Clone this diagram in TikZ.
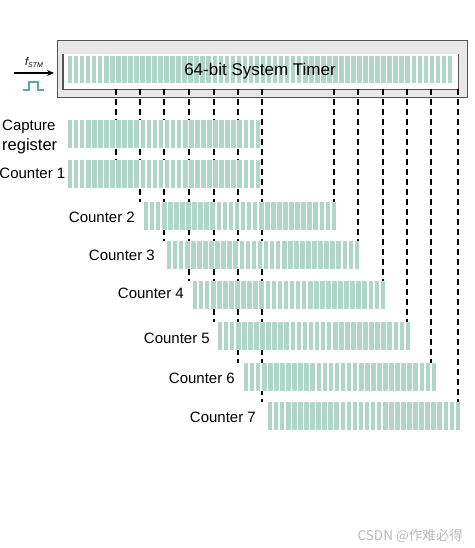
\documentclass[tikz,border=0pt]{standalone}
\usepackage{fontspec}
\setmainfont{Liberation Sans}
\newfontfamily\cjk{Noto Sans CJK SC}
\usetikzlibrary{arrows.meta}
\definecolor{stripecol}{RGB}{176,214,202}
\definecolor{boxfill}{RGB}{233,231,231}
\definecolor{boxline}{RGB}{85,85,85}
\definecolor{pulsecol}{RGB}{90,170,155}
\newcommand\mybar[3]{%
  \fill[white] (#1.north west) rectangle (#1.south east);
  \foreach \i in {1,...,#2}{\fill[stripecol] ([xshift={(\i-1)*#3pt+0.8pt}]#1.north west) rectangle ([xshift={(\i-1)*#3pt+#3pt-0.7pt}]#1.south west);}}
\begin{document}
\begin{tikzpicture}[x=1pt,y=-1pt,
  bar/.style={rectangle, inner sep=0pt, minimum width=194pt, minimum height=28pt, anchor=north west},
  lab/.style={font=\fontsize{15}{17}\selectfont, anchor=east, inner sep=0pt},
  dline/.style={line width=1.8pt, dash pattern=on 6pt off 4pt}]
\useasboundingbox (0,0) rectangle (474,548);

% system timer
\node[draw=boxline, fill=boxfill, line width=1pt, minimum width=410pt, minimum height=57pt, anchor=north west, inner sep=0pt] (sys) at (57,40) {};
\node[fill=white, inner sep=0pt, minimum width=395pt, minimum height=35pt, anchor=north west] (tim) at (63,54) {};
\draw[boxline, line width=1.2pt] (tim.north west) -- (tim.south west) -- (tim.south east) -- (tim.north east);
\node[inner sep=0pt, minimum width=386pt, minimum height=27pt, anchor=north west] (timbar) at (67,56) {};
\mybar{timbar}{64}{6.03}
\node[font=\fontsize{17}{19}\selectfont, inner sep=0pt] (timtext) at (260,71) {64-bit System Timer};

% clock input
\coordinate (clkin) at (14,73);
\draw[-{Stealth[length=7pt,width=6pt]}, line width=1.3pt] (clkin) -- ([xshift=-3pt]clkin -| sys.west);
\node[inner sep=0pt] (fstm) at (34,63) {\fontsize{11}{11}\selectfont\itshape f\raisebox{-2pt}{\fontsize{7}{7}\selectfont STM}};
\draw[pulsecol, line width=1.6pt] (23,90) -- (29,90) -- (29,82) -- (38,82) -- (38,90) -- (44,90);

% register / counter frames
\node[bar] (cap) at (67,120) {};
\node[bar] (c1) at (67,160) {};
\node[bar] (c2) at (143,202) {};
\node[bar] (c3) at (166,241) {};
\node[bar] (c4) at (192,281) {};
\node[bar] (c5) at (217,322) {};
\node[bar] (c6) at (243,363) {};
\node[bar] (c7) at (267,402) {};

% dashed taps
\draw[dline] (116,0 |- tim.south) -- (116,0 |- c1.north);
\draw[dline] (140,0 |- tim.south) -- (140,0 |- c2.north);
\draw[dline] (164,0 |- tim.south) -- (164,0 |- c3.north);
\draw[dline] (189,0 |- tim.south) -- (189,0 |- c4.north);
\draw[dline] (214,0 |- tim.south) -- (214,0 |- c5.north);
\draw[dline] (238,0 |- tim.south) -- (238,0 |- c6.north);
\draw[dline] (262,0 |- tim.south) -- (262,0 |- c7.north);
\draw[dline] (334,0 |- tim.south) -- (334,0 |- c2.north);
\draw[dline] (358,0 |- tim.south) -- (358,0 |- c3.north);
\draw[dline] (383,0 |- tim.south) -- (383,0 |- c4.north);
\draw[dline] (407,0 |- tim.south) -- (407,0 |- c5.north);
\draw[dline] (431,0 |- tim.south) -- (431,0 |- c6.north);
\draw[dline] (458,0 |- tim.south) -- (458,0 |- c7.north);

% bars
\mybar{cap}{32}{6.06}
\mybar{c1}{32}{6.06}
\mybar{c2}{32}{6.06}
\mybar{c3}{32}{6.06}
\mybar{c4}{32}{6.06}
\mybar{c5}{32}{6.06}
\mybar{c6}{32}{6.06}
\mybar{c7}{32}{6.06}

% labels
\node[lab, anchor=west] (capl1) at (2,127) {Capture};
\node[lab, anchor=west, font=\fontsize{16.5}{18}\selectfont] (capl2) at (2,146) {register};
\node[lab] (l1) at (65.5,173) {Counter 1};
\node[lab] (l2) at (135,217) {Counter 2};
\node[lab] (l3) at (155,255) {Counter 3};
\node[lab] (l4) at (184,293) {Counter 4};
\node[lab] (l5) at (210,338) {Counter 5};
\node[lab] (l6) at (235,378) {Counter 6};
\node[lab] (l7) at (256,417) {Counter 7};

% watermark
\node[anchor=east, inner sep=0pt, text=gray!55, font=\cjk\fontsize{13.5}{14}\selectfont] (wm) at (463,536) {CSDN @作难必得};
\end{tikzpicture}
\end{document}
